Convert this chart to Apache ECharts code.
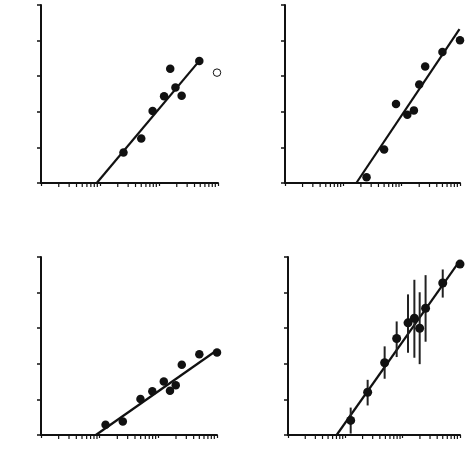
<!DOCTYPE html>
<html><head><meta charset="utf-8">
<script src="https://cdn.jsdelivr.net/npm/echarts@6/dist/echarts.min.js"></script>
<style>html,body{margin:0;padding:0;background:#fff}#c{width:474px;height:474px}</style>
</head><body><div id="c"></div>
<script>
// Panel A (top-left)
const p1X = [25, 50, 78, 122, 155, 190, 242, 482];
const p1Y = [0.86, 1.25, 2.02, 2.44, 3.21, 2.68, 2.45, 3.43];
const p1OpenX = [962];
const p1OpenY = [3.10];
const p1FitX = [8.8, 482];
const p1FitY = [0, 3.43];
// Panel B (top-right)
const p2X = [25, 50, 80, 125, 162, 200, 253, 500, 1000];
const p2Y = [0.16, 0.94, 2.22, 1.92, 2.04, 2.77, 3.27, 3.68, 4.01];
const p2FitX = [16.7, 980];
const p2FitY = [0, 4.32];
// Panel C (bottom-left)
const p3X = [12.6, 24.8, 49.6, 79, 124, 158, 198, 251, 500, 1000];
const p3Y = [0.29, 0.38, 1.01, 1.23, 1.50, 1.24, 1.40, 1.97, 2.27, 2.32];
const p3FitX = [8.6, 995];
const p3FitY = [0, 2.38];
// Panel D (bottom-right) with error bars
const p4X = [12.4, 24.5, 48.5, 78.6, 124, 160, 198, 251, 500, 1000];
const p4Y = [0.41, 1.20, 2.03, 2.71, 3.15, 3.28, 3.00, 3.56, 4.27, 4.80];
const p4Hi = [0.77, 1.55, 2.49, 3.19, 3.95, 4.36, 4.01, 4.49, 4.65, 4.85];
const p4Lo = [0.04, 0.83, 1.58, 2.19, 2.31, 2.17, 1.99, 2.62, 3.86, 4.75];
const p4FitX = [7.05, 988];
const p4FitY = [0, 4.89];
// axis settings
const xMin = 1, xMax = 1000;
const yMin = 0, yMax = 5, yStep = 1;
const minorTickVals = [2,3,4,5,6,7,8,9,20,30,40,50,60,70,80,90,200,300,400,500,600,700,800,900];

const zip = (a, b) => a.map((v, i) => [v, b[i]]);
const grids = [
  {left: 41, top: 5, width: 177, height: 178},
  {left: 285, top: 5, width: 175, height: 178},
  {left: 41, top: 257, width: 176, height: 178},
  {left: 288, top: 257, width: 172, height: 178}
];
const ink = '#111';
const xAxes = grids.map((g, i) => ({
  type: 'log', logBase: 10, gridIndex: i, min: xMin, max: xMax,
  axisLine: {lineStyle: {color: ink, width: 2}},
  axisTick: {show: true, length: 3, lineStyle: {color: ink, width: 1.2}},
  axisLabel: {show: false}, splitLine: {show: false}
}));
const yAxes = grids.map((g, i) => ({
  type: 'value', gridIndex: i, min: yMin, max: yMax, interval: yStep,
  axisLine: {show: true, lineStyle: {color: ink, width: 2}},
  axisTick: {show: true, length: 4, lineStyle: {color: ink, width: 1.5}},
  axisLabel: {show: false}, splitLine: {show: false}
}));
const series = [];
const panels = [
  {pts: zip(p1X, p1Y), fit: zip(p1FitX, p1FitY)},
  {pts: zip(p2X, p2Y), fit: zip(p2FitX, p2FitY)},
  {pts: zip(p3X, p3Y), fit: zip(p3FitX, p3FitY)},
  {pts: zip(p4X, p4Y), fit: zip(p4FitX, p4FitY)}
];
panels.forEach((p, i) => {
  series.push({
    type: 'scatter', xAxisIndex: i, yAxisIndex: i, silent: true,
    data: minorTickVals.map(v => [v, 0]), symbol: 'rect', symbolSize: [1.2, 3],
    symbolOffset: [0, 2.5], itemStyle: {color: ink, opacity: 1}, z: 1
  });
  series.push({
    type: 'line', xAxisIndex: i, yAxisIndex: i, data: p.fit, showSymbol: false,
    lineStyle: {color: ink, width: 2.2}, z: 2, silent: true
  });
  series.push({
    type: 'scatter', xAxisIndex: i, yAxisIndex: i, data: p.pts, symbol: 'circle',
    symbolSize: i === 3 ? 9 : 8.5, itemStyle: {color: ink, opacity: 1}, z: 4
  });
});
series.push({
  type: 'scatter', xAxisIndex: 0, yAxisIndex: 0, data: zip(p1OpenX, p1OpenY), symbol: 'circle',
  symbolSize: 7.5, itemStyle: {color: '#fff', borderColor: ink, borderWidth: 1, opacity: 1}, z: 4
});
series.push({
  type: 'custom', xAxisIndex: 3, yAxisIndex: 3, z: 3,
  data: p4X.map((x, i) => [x, p4Lo[i], p4Hi[i]]),
  renderItem: function (params, api) {
    const a = api.coord([api.value(0), api.value(1)]);
    const b = api.coord([api.value(0), api.value(2)]);
    return {type: 'line', shape: {x1: a[0], y1: a[1], x2: b[0], y2: b[1]},
      style: {stroke: '#222', lineWidth: 2}};
  }
});
const chart = echarts.init(document.getElementById('c'), null, {renderer: 'canvas'});
chart.setOption({animation: false, backgroundColor: '#fff', grid: grids, xAxis: xAxes, yAxis: yAxes, series: series});
</script></body></html>
